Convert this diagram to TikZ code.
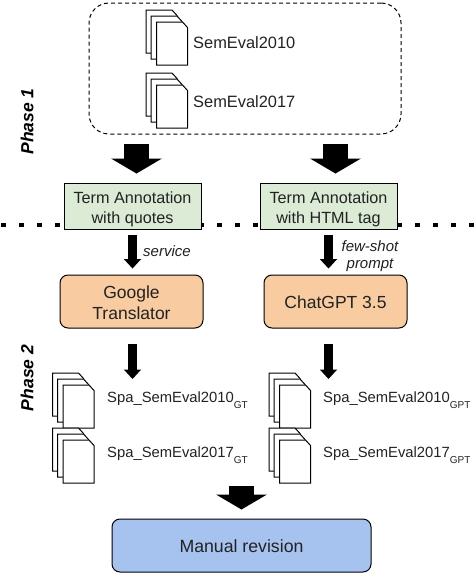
\documentclass[tikz,border=0pt]{standalone}
\usepackage{fontspec}
\setmainfont{Liberation Sans}
\usetikzlibrary{arrows.meta,calc}
\definecolor{ink}{HTML}{222222}
\definecolor{greenbox}{HTML}{DCEBD5}
\definecolor{orangebox}{HTML}{F8CBA0}
\definecolor{bluebox}{HTML}{A6C3F0}
\tikzset{
  x=1pt,y=-1pt,
  greenstyle/.style={draw=black,line width=1pt,fill=greenbox,minimum width=137pt,minimum height=46pt,inner sep=0pt,align=center,text=ink,font=\fontsize{16.2}{20}\selectfont},
  orangestyle/.style={draw=black,line width=1pt,fill=orangebox,rounded corners=8pt,minimum width=143pt,minimum height=53pt,inner sep=0pt,align=center,text=ink,font=\fontsize{17.5}{21}\selectfont},
  bluestyle/.style={draw=black,line width=1pt,fill=bluebox,rounded corners=8pt,minimum width=259pt,minimum height=53pt,inner sep=0pt,text=ink,font=\fontsize{17.7}{21}\selectfont},
  datastyle/.style={draw=black,line width=1pt,dash pattern=on 4pt off 3pt,rounded corners=20pt,minimum width=312pt,minimum height=131pt,inner sep=0pt},
  bigarrow/.style={line width=25.5pt,-{Triangle[length=15pt,width=51pt,line width=0pt]}},
  midarrow/.style={line width=9pt,-{Triangle[length=9.5pt,width=17.5pt,line width=0pt]}},
  pagestyle/.style={draw=black,line width=1pt,fill=white,line join=miter},
  doclabel/.style={anchor=west,inner sep=0pt,text=ink,font=\fontsize{16.4}{19}\selectfont},
  spalabel/.style={anchor=west,inner sep=0pt,text=ink,font=\fontsize{14.8}{18}\selectfont},
  notelabel/.style={inner sep=0pt,align=center,text=ink,font=\itshape\fontsize{15}{17}\selectfont},
  phaselabel/.style={rotate=90,inner sep=0pt,text=black,font=\bfseries\itshape\fontsize{17.5}{20}\selectfont},
}
\newcommand{\onepage}[2]{\draw[pagestyle] (#1,#2) -- ++(26,0) -- ++(5,5.5) -- (#1+31,#2+43) -- (#1,#2+43) -- cycle;}
\newcommand{\docpile}[2]{\onepage{#1}{#2}\onepage{#1+5}{#2+6}\onepage{#1+10.5}{#2+12}}
\newcommand{\lowsub}[1]{\raisebox{-6pt}{\fontsize{10}{12}\selectfont #1}}
\begin{document}
\begin{tikzpicture}
\useasboundingbox (0,0) rectangle (474,573);
\fill[white] (0,0) rectangle (474,573);
% dotted divider
\coordinate (divL) at (1,225);
\coordinate (divR) at (474,225);
\draw[line width=4.5pt,dash pattern=on 4.5pt off 13.5pt] (divL) -- (divR);
% nodes
\node[datastyle] (data) at (245,68.5) {};
\node[greenstyle] (term1) at (132.5,206) {\rule{0pt}{19pt}Term Annotation\\with quotes};
\node[greenstyle] (term2) at (328.5,206) {\rule{0pt}{19pt}Term Annotation\\with HTML tag};
\node[orangestyle] (google) at (131.5,301.5) {\rule{0pt}{15pt}Google\\Translator};
\node[orangestyle] (chat) at (335.5,301.5) {\rule{0pt}{15pt}ChatGPT 3.5};
\node[bluestyle] (manual) at (241.5,545.5) {\rule{0pt}{15pt}Manual revision};
% document piles
\docpile{146}{10}
\docpile{146}{73}
\docpile{52.5}{373}
\docpile{52.5}{428}
\docpile{269}{373}
\docpile{269}{428}
\node[doclabel] (d10) at (193,43) {SemEval2010};
\node[doclabel] (d17) at (193,101.5) {SemEval2017};
\node[spalabel] (s1) at (107,400) {Spa\_SemEval2010\lowsub{GT}};
\node[spalabel] (s2) at (107,455) {Spa\_SemEval2017\lowsub{GT}};
\node[spalabel] (s3) at (323,400) {Spa\_SemEval2010\lowsub{GPT}};
\node[spalabel] (s4) at (323,455) {Spa\_SemEval2017\lowsub{GPT}};
% labels
\node[notelabel] (service) at (167,251) {service};
\node[notelabel] (few) at (370,256) {few-shot\\[0.5pt]prompt};
\node[phaselabel] (ph1) at (27,121.5) {Phase 1};
\node[phaselabel] (ph2) at (27,378) {Phase 2};
% block arrows
\draw[bigarrow,shorten <=9pt,shorten >=9pt] ([xshift=4pt]term1.north |- data.south) -- ([xshift=4pt]term1.north);
\draw[bigarrow,shorten <=9pt,shorten >=9pt] ([xshift=7pt]term2.north |- data.south) -- ([xshift=7pt]term2.north);
\draw[midarrow,shorten <=5pt,shorten >=6pt] (term1.south) -- (term1.south |- google.north);
\draw[midarrow,shorten <=5pt,shorten >=6pt] (term2.south) -- (term2.south |- chat.north);
\coordinate (tipL) at (term1.south |- 0,379);
\coordinate (tipR) at (term2.south |- 0,379);
\draw[midarrow,shorten <=15pt] (term1.south |- google.south) -- (tipL);
\draw[midarrow,shorten <=15pt] (term2.south |- chat.south) -- (tipR);
\coordinate (merge) at (241.5,486);
\draw[bigarrow,shorten >=9pt] (merge) -- (manual.north);
\end{tikzpicture}
\end{document}
